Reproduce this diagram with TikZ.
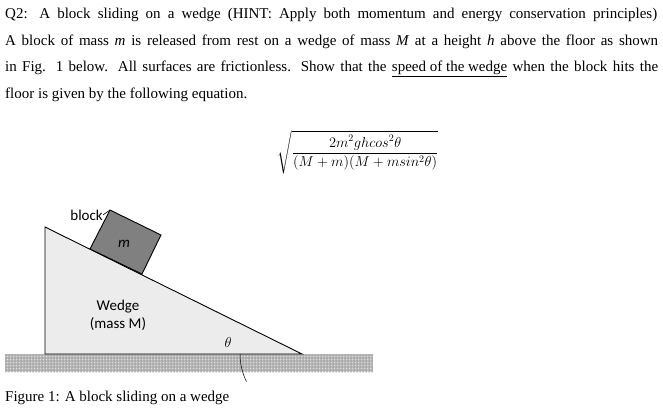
\documentclass[tikz,border=0pt]{standalone}
\usepackage{amsmath}
\usepackage{fontspec}
\setmainfont{Liberation Serif}
\newfontfamily\calfont{Carlito}
\usetikzlibrary{patterns}
\begin{document}
\begin{tikzpicture}[x=1pt,y=-1pt,
  txt/.style={anchor=west,inner sep=0pt,font=\fontsize{15}{18}\selectfont},
  lab/.style={inner sep=0pt,font=\calfont\fontsize{15}{18}\selectfont}]
\useasboundingbox (0,0) rectangle (663,412);
\node[txt] (l1) at (5,15) {\makebox[652pt][s]{Q2: A block sliding on a wedge (HINT: Apply both momentum and energy conservation principles)}};
\node[txt] (l2) at (5,42) {\makebox[653pt][s]{A block of mass \textit{m} is released from rest on a wedge of mass \textit{M} at a height \textit{h} above the floor as shown}};
\node[txt] (l3) at (5,69) {\makebox[653pt][s]{in Fig. 1 below. All surfaces are frictionless. Show that the \underline{speed of the wedge} when the block hits the}};
\node[txt] (l4) at (5,95) {floor is given by the following equation.};
\node[inner sep=0pt,font=\fontsize{14}{16}\selectfont] (eq) at (358,152) {$\sqrt{\dfrac{2m^2ghcos^2\theta}{(M+m)(M+msin^2\theta)}}$};
% ground
\fill[gray!55] (5,354) rectangle (373,372);
\path[pattern=crosshatch dots,pattern color=gray!20] (5,354) rectangle (373,372);
\path[pattern=dots,pattern color=black!70] (5,354) rectangle (373,372);
% wedge
\coordinate (A) at (45,227); \coordinate (B) at (45,354); \coordinate (C) at (302,354);
\draw[fill=gray!15,line width=0.9pt] (A) -- (B) -- (C) -- cycle;
% block
\draw[fill=gray,line width=0.9pt] (90,249) -- (142,274) -- (161,235) -- (110,210) -- cycle;
\coordinate (corner) at (110,210);
\node[lab,anchor=east] (blk) at (103,215) {block};
\draw[line width=0.6pt] (blk.east) -- (corner);
\node[lab,font=\calfont\itshape\fontsize{15}{18}\selectfont] (m) at (124,244) {m};
\node[lab,align=center] (wl) at (118,315) {Wedge\\(mass M)};
\draw[line width=0.5pt] (C) ++(180:62) arc (180:153.5:62);
\node[inner sep=0pt,font=\fontsize{14}{16}\selectfont] (th) at (228,342) {$\theta$};
\node[txt] (cap) at (5,398) {Figure 1: A block sliding on a wedge};
\end{tikzpicture}
\end{document}
